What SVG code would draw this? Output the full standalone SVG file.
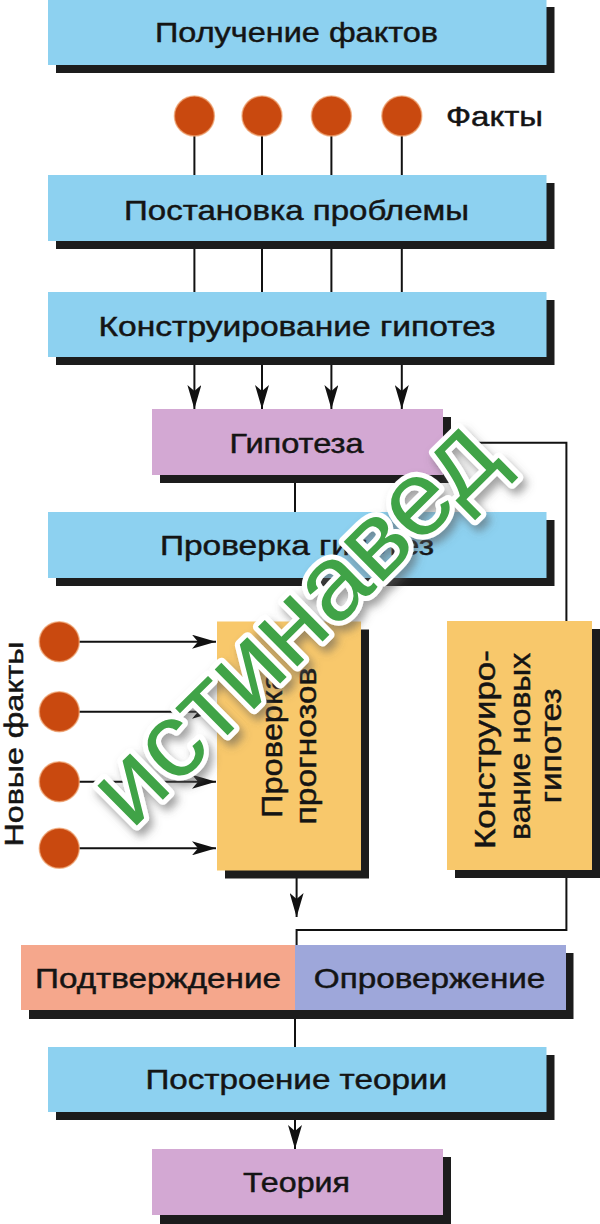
<svg xmlns="http://www.w3.org/2000/svg" width="600" height="1224" viewBox="0 0 600 1224">
<defs>
<style>
text{font-family:"Liberation Sans",Arial,sans-serif;fill:#141414}
.t{font-size:27.5px;text-anchor:middle;stroke:#141414;stroke-width:0.45}
.r{font-size:30px;text-anchor:middle;stroke:#141414;stroke-width:0.45}
.sh{fill:#1c1c1c}
.blue{fill:#8dd1f0}
.lilac{fill:#d3a8d3}
.yellow{fill:#f8c86b}
.salmon{fill:#f5a78c}
.peri{fill:#9ea7da}
.dot{fill:#c9490f;stroke:#f0a574;stroke-width:1.5;stroke-opacity:0.7}
.conn{stroke:#111;stroke-width:2;fill:none}
.arr{marker-end:url(#ah)}
.wm{font-size:106px;text-anchor:middle;fill:#3fa346;stroke:#ffffff;stroke-width:10;stroke-linejoin:round;paint-order:stroke}
</style>
<marker id="ah" markerUnits="userSpaceOnUse" markerWidth="24" markerHeight="14" viewBox="0 0 24 14" refX="24" refY="7" orient="auto">
<path d="M0,0 L24,7 L0,14 L6,7 Z" fill="#111"/>
</marker>
<filter id="wmsh" x="-20%" y="-20%" width="140%" height="140%">
<feDropShadow dx="4" dy="6" stdDeviation="4" flood-color="#555" flood-opacity="0.55"/>
</filter>
</defs>
<rect width="600" height="1224" fill="#ffffff"/>

<g id="connectors">
<line class="conn" x1="194.4" y1="116" x2="194.4" y2="176"/>
<line class="conn" x1="262" y1="116" x2="262" y2="176"/>
<line class="conn" x1="331.4" y1="116" x2="331.4" y2="176"/>
<line class="conn" x1="401.8" y1="116" x2="401.8" y2="176"/>
<line class="conn" x1="194.4" y1="240" x2="194.4" y2="293"/>
<line class="conn" x1="262" y1="240" x2="262" y2="293"/>
<line class="conn" x1="331.4" y1="240" x2="331.4" y2="293"/>
<line class="conn" x1="401.8" y1="240" x2="401.8" y2="293"/>
<line class="conn arr" x1="194.4" y1="357" x2="194.4" y2="409"/>
<line class="conn arr" x1="262" y1="357" x2="262" y2="409"/>
<line class="conn arr" x1="331.4" y1="357" x2="331.4" y2="409"/>
<line class="conn arr" x1="401.8" y1="357" x2="401.8" y2="409"/>
<line class="conn" x1="295" y1="475" x2="295" y2="513"/>
<line class="conn arr" x1="79" y1="641.7" x2="216" y2="641.7"/>
<line class="conn arr" x1="79" y1="711.7" x2="216" y2="711.7"/>
<line class="conn arr" x1="79" y1="781.7" x2="216" y2="781.7"/>
<line class="conn arr" x1="79" y1="848.3" x2="216" y2="848.3"/>
<line class="conn arr" x1="296.6" y1="870" x2="296.6" y2="917"/>
<path class="conn arr" d="M296.6,946 V930 H566.4 V442.7 H447"/>
<line class="conn" x1="295" y1="1010" x2="295" y2="1048"/>
<line class="conn arr" x1="295" y1="1112" x2="295" y2="1149"/>
</g>

<g id="node-polucheniye">
<rect class="sh" x="56" y="7" width="498.5" height="66"/>
<rect class="blue" x="48" y="-1" width="498.5" height="66"/>
<text class="t" x="296.5" y="42" textLength="283" lengthAdjust="spacingAndGlyphs">Получение фактов</text>
</g>

<g id="node-fakty">
<circle class="dot" cx="194.4" cy="116" r="20"/>
<circle class="dot" cx="262" cy="116" r="20"/>
<circle class="dot" cx="331.4" cy="116" r="20"/>
<circle class="dot" cx="401.8" cy="116" r="20"/>
<text class="t" x="494.5" y="126" textLength="97" lengthAdjust="spacingAndGlyphs">Факты</text>
</g>

<g id="node-postanovka">
<rect class="sh" x="56" y="183" width="498.5" height="66"/>
<rect class="blue" x="48" y="175" width="498.5" height="66"/>
<text class="t" x="296.5" y="220" textLength="345" lengthAdjust="spacingAndGlyphs">Постановка проблемы</text>
</g>

<g id="node-konstruirovanie">
<rect class="sh" x="56" y="300" width="498.5" height="65"/>
<rect class="blue" x="48" y="292" width="498.5" height="65"/>
<text class="t" x="297" y="336" textLength="397" lengthAdjust="spacingAndGlyphs">Конструирование гипотез</text>
</g>

<g id="node-gipoteza">
<rect class="sh" x="160" y="417" width="291" height="66"/>
<rect class="lilac" x="152" y="409" width="291" height="66"/>
<text class="t" x="296.6" y="452.7" textLength="134" lengthAdjust="spacingAndGlyphs">Гипотеза</text>
</g>

<g id="node-proverka-gipotez">
<rect class="sh" x="56" y="520" width="498.5" height="66"/>
<rect class="blue" x="48" y="512" width="498.5" height="66"/>
<text class="t" x="297" y="555" textLength="274" lengthAdjust="spacingAndGlyphs">Проверка гипотез</text>
</g>

<g id="node-novye-fakty">
<circle class="dot" cx="59.3" cy="641.7" r="20"/>
<circle class="dot" cx="59.3" cy="711.7" r="20"/>
<circle class="dot" cx="59.3" cy="781.7" r="20"/>
<circle class="dot" cx="59.3" cy="848.3" r="20"/>
<text font-size="26" text-anchor="middle" stroke="#141414" stroke-width="0.45" transform="translate(22.7,744) rotate(-90)" textLength="205" lengthAdjust="spacingAndGlyphs">Новые факты</text>
</g>

<g id="node-proverka-prognozov">
<rect class="sh" x="225" y="629.5" width="144" height="249"/>
<rect class="yellow" x="217" y="621.5" width="144" height="249"/>
<text class="r" transform="translate(281.7,745) rotate(-90)" textLength="146" lengthAdjust="spacingAndGlyphs">Проверка</text>
<text class="r" transform="translate(316,746) rotate(-90)" textLength="157" lengthAdjust="spacingAndGlyphs">прогнозов</text>
</g>

<g id="node-novye-gipotezy">
<rect class="sh" x="455" y="629" width="145" height="249"/>
<rect class="yellow" x="447" y="621" width="145" height="249"/>
<text class="r" transform="translate(495,749.6) rotate(-90)" textLength="199" lengthAdjust="spacingAndGlyphs">Конструиро-</text>
<text class="r" transform="translate(529.5,746.4) rotate(-90)" textLength="187" lengthAdjust="spacingAndGlyphs">вание новых</text>
<text class="r" transform="translate(561,745.8) rotate(-90)" textLength="115" lengthAdjust="spacingAndGlyphs">гипотез</text>
</g>

<g id="node-podtverzhdenie-oproverzhenie">
<rect class="sh" x="29" y="953" width="544.5" height="66"/>
<rect class="salmon" x="21" y="945" width="274" height="65"/>
<rect class="peri" x="295" y="945" width="271" height="65"/>
<text class="t" x="158" y="988.3" textLength="246" lengthAdjust="spacingAndGlyphs">Подтверждение</text>
<text class="t" x="429.6" y="988.3" textLength="231.6" lengthAdjust="spacingAndGlyphs">Опровержение</text>
</g>

<g id="node-postroenie">
<rect class="sh" x="56" y="1055" width="498.5" height="65"/>
<rect class="blue" x="48" y="1047" width="498.5" height="65"/>
<text class="t" x="296.2" y="1089.3" textLength="301.6" lengthAdjust="spacingAndGlyphs">Построение теории</text>
</g>

<g id="node-teoriya">
<rect class="sh" x="160" y="1157" width="291" height="70"/>
<rect class="lilac" x="152" y="1149" width="291" height="66"/>
<text class="t" x="296.5" y="1191.7" textLength="107" lengthAdjust="spacingAndGlyphs">Теория</text>
</g>

<g id="watermark" filter="url(#wmsh)">
<text class="wm" transform="translate(318,646) rotate(-44.7)" textLength="525" lengthAdjust="spacingAndGlyphs">истинавед</text>
</g>
</svg>
